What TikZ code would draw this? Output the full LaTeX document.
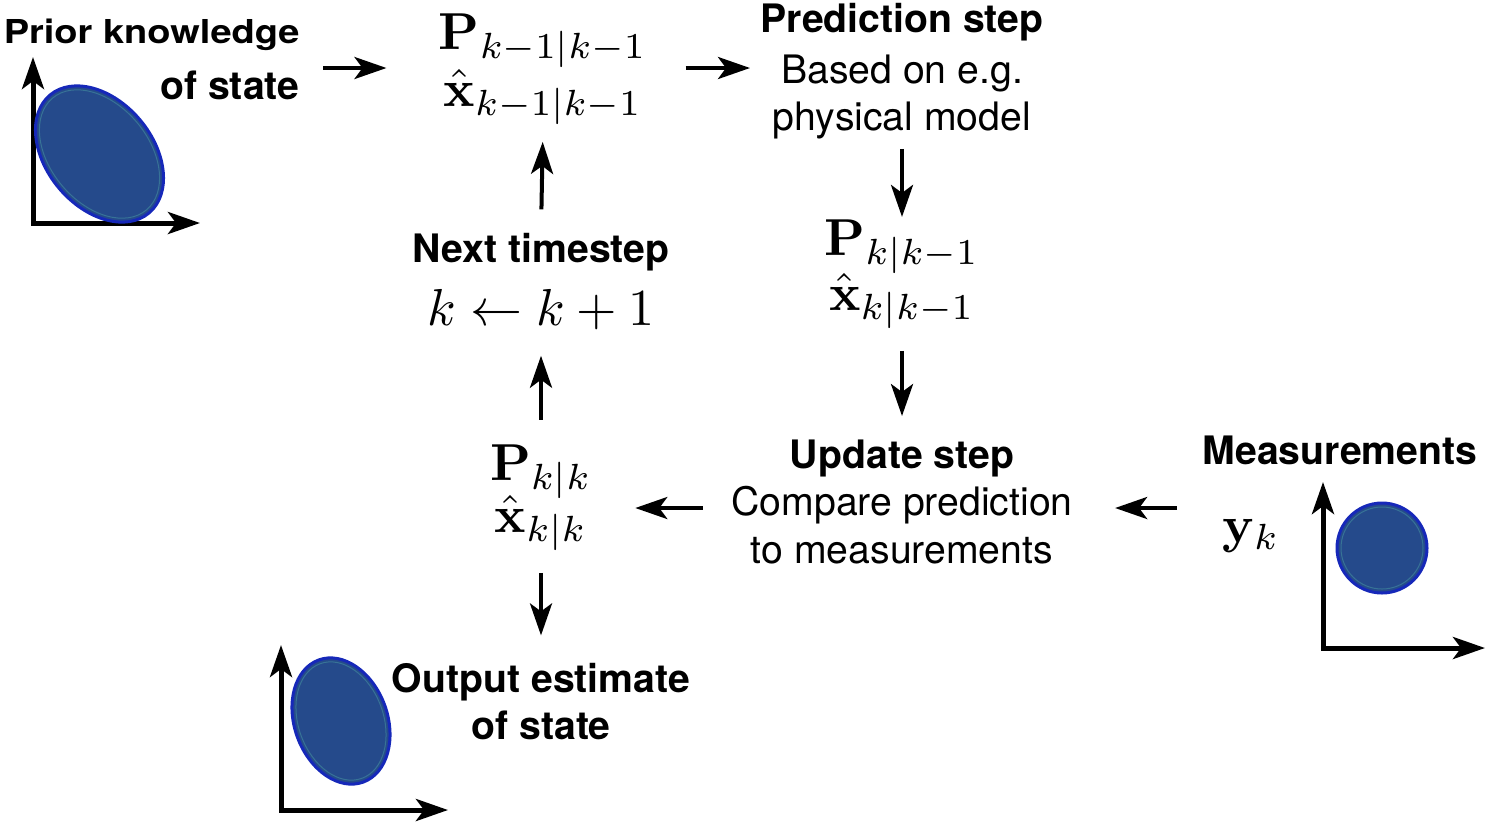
\documentclass[tikz,border=0pt]{standalone}
\usepackage{fix-cm}
\usepackage[no-math]{fontspec}
\setmainfont{TeX Gyre Heros}
\usepackage{graphicx}
\usetikzlibrary{arrows.meta}
\definecolor{ellfill}{RGB}{37,74,139}
\definecolor{ellline}{RGB}{22,40,185}
\definecolor{ellring}{RGB}{55,115,150}
\newcommand{\stkc}[2]{\vtop{\baselineskip=#1\lineskiplimit=-1000pt\lineskip=0pt\halign{\hfil##\hfil\cr#2\crcr}}}
\newcommand{\stkr}[2]{\vtop{\baselineskip=#1\lineskiplimit=-1000pt\lineskip=0pt\halign{\hfil##\cr#2\crcr}}}
\newcommand{\txtf}{\fontsize{19.6}{23.5}\selectfont}
\newcommand{\M}[1]{\scalebox{2.6}{\fontsize{10}{12}\selectfont$#1$}}
\begin{document}
\begin{tikzpicture}[x=0.5pt,y=-0.5pt,
  arr/.style={line width=2pt,-{Stealth[length=16pt,width=11pt,inset=4pt]}},
  axisline/.style={line width=2.5pt,{Stealth[length=16pt,width=11pt,inset=4pt]}-{Stealth[length=16pt,width=11pt,inset=4pt]}},
  lbl/.style={inner sep=0pt,font=\txtf},
  blob/.style={fill=ellfill,draw=ellline,line width=1.5pt},
  ring/.style={draw=ellring,line width=0.5pt}]
\useasboundingbox (0,0) rectangle (1487,821);

% ---- plot: prior
\draw[axisline] (33,57) -- (33,223) -- (200,223);
\filldraw[blob, rotate around={-50:(99.5,154)}] (99.5,154) ellipse [x radius=77, y radius=53];
\draw[ring, rotate around={-50:(99.5,154)}] (99.5,154) ellipse [x radius=73, y radius=49];

% ---- plot: measurements
\draw[axisline] (1323,482) -- (1323,648) -- (1485,648);
\filldraw[blob] (1382,548) circle [radius=45];
\draw[ring] (1382,548) circle [radius=41];

% ---- plot: output
\draw[axisline] (281,645) -- (281,810) -- (448,810);
\filldraw[blob, rotate around={20:(341,721)}] (341,721) ellipse [x radius=46.5, y radius=65];
\draw[ring, rotate around={20:(341,721)}] (341,721) ellipse [x radius=42.5, y radius=61];

% ---- text blocks
\node[lbl, font=\txtf\bfseries, anchor=base east] (prior) at (300,43)
  {\stkr{28pt}{\scalebox{0.97}[0.84]{Prior knowledge}\cr of state}};
\node[lbl, anchor=base] (Pm) at (543,49)
  {\stkc{28.5pt}{\M{\mathbf{P}_{k-1|k-1}}\cr\M{\hat{\mathbf{x}}_{k-1|k-1}}}};
\node[lbl, anchor=base] (pred) at (902,32)
  {\stkc{23.5pt}{\bfseries Prediction step\cr\noalign{\kern2pt}Based on e.g.\cr physical model}};
\node[lbl, anchor=base] (Pk1) at (902,255)
  {\stkc{27.5pt}{\M{\mathbf{P}_{k|k-1}}\cr\M{\hat{\mathbf{x}}_{k|k-1}}}};
\node[lbl, anchor=base] (upd) at (902,468)
  {\stkc{23.75pt}{\bfseries Update step\cr Compare prediction\cr to measurements}};
\node[lbl, anchor=base] (Pkk) at (541,480)
  {\stkc{26pt}{\M{\mathbf{P}_{k|k}}\cr\M{\hat{\mathbf{x}}_{k|k}}}};
\node[lbl, anchor=base] (ntime) at (541,262)
  {\stkc{31.5pt}{\bfseries Next timestep\cr\M{k\leftarrow k+1}}};
\node[lbl, font=\txtf\bfseries, anchor=base] (outp) at (541,692)
  {\stkc{23.5pt}{Output estimate\cr of state}};
\node[lbl, font=\txtf\bfseries, anchor=base] (meas) at (1340,464) {Measurements};
\node[lbl, anchor=base] (yk) at (1251,542) {\M{\mathbf{y}_k}};

% ---- connectors
\coordinate (row1) at (0,68);
\coordinate (row2) at (0,508);
\draw[arr, shorten <=11.5pt, shorten >=26pt] (prior.east |- row1) -- (Pm.west |- row1);
\draw[arr, shorten <=19pt, shorten >=5pt] (Pm.east |- row1) -- (pred.west |- row1);
\draw[arr, shorten <=5pt, shorten >=1pt] (pred.south) -- (Pk1.north);
\draw[arr, shorten <=11pt, shorten >=11.5pt] (Pk1.south) -- (upd.north);
\draw[arr, shorten <=22.5pt, shorten >=21pt] (yk.west |- row2) -- (upd.east |- row2);
\draw[arr, shorten <=14pt, shorten >=21.5pt] (upd.west |- row2) -- (Pkk.east |- row2);
\draw[arr, shorten <=12pt, shorten >=13pt] (Pkk.north) -- (ntime.south);
\draw[arr, shorten <=11.5pt, shorten >=8.5pt] (ntime.north) -- (Pm.south);
\draw[arr, shorten <=11pt, shorten >=13.5pt] (Pkk.south) -- (outp.north);
\end{tikzpicture}
\end{document}
